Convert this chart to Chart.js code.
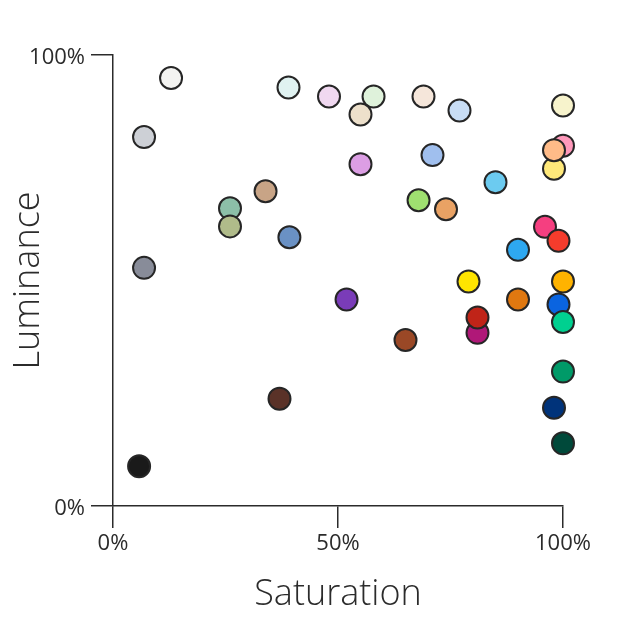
<!DOCTYPE html>
<html>
<head>
<meta charset="utf-8">
<script src="https://cdn.jsdelivr.net/npm/chart.js@4.4.1/dist/chart.umd.min.js"></script>
<style>
  body { margin: 0; background: #fff; }
  canvas { display: block; }
</style>
</head>
<body>
<canvas id="scatter" width="620" height="620"></canvas>
<script>
// saturation (%), luminance (%) and fill colour of each swatch
var saturation = [12.9, 39, 48, 57.9, 55, 69, 77, 100, 6.9, 55, 71, 100, 98, 98,
                  33.9, 26, 26, 39.2, 67.9, 74, 85, 96, 99, 90, 6.9, 51.9, 79, 100,
                  90, 99, 81, 81, 100, 65, 100, 37, 98, 100, 5.8];
var luminance  = [94.9, 92.8, 90.8, 90.8, 86.8, 90.8, 87.7, 88.8, 81.8, 75.8, 77.8, 79.9, 74.8, 78.9,
                  69.8, 66, 62, 59.6, 67.8, 65.8, 71.8, 61.9, 58.8, 56.8, 52.8, 45.8, 49.8, 49.8,
                  45.8, 44.7, 38.4, 41.8, 40.8, 36.8, 29.8, 23.8, 21.8, 13.9, 8.8];
var colors     = ["#f3f3f1", "#e0f2f1", "#f0d8f0", "#dff2db", "#ede0cb", "#f5e6da", "#c8ddf5", "#f7f3cc",
                  "#cdd0d6", "#dc9ee4", "#a0bfee", "#ff99bb", "#ffe97a", "#ffbb88",
                  "#c8a486", "#8cbfa8", "#b0bb8a", "#6a91c4", "#9fe070", "#e9a264", "#6ccbf0",
                  "#f53f80", "#f53c2c", "#2ea8f0", "#888c99", "#7a3cb8", "#ffe500", "#ffb300",
                  "#e07810", "#0a64e0", "#b01878", "#c02418", "#00d090", "#9a4826", "#009a68",
                  "#5a3228", "#00337a", "#00493a", "#1a1a1a"];
var xTicks = [0, 50, 100];
var yTicks = [0, 100];

var points = saturation.map(function(s, i) {
  return {x: s, y: luminance[i]};
});

var fontFamily = "'Segoe UI', 'Open Sans', 'Noto Sans', sans-serif";
var ink = "#2b2b2b";

var ctx = document.getElementById("scatter");
var chart = new Chart(ctx, {
  type: 'scatter',
  data: {
    datasets: [{
      data: points,
      clip: false,
      pointBackgroundColor: colors,
      pointBorderColor: "#262626",
      pointBorderWidth: 2,
      pointRadius: 11,
      pointHoverRadius: 11
    }]
  },
  options: {
    responsive: false,
    animation: false,
    events: [],
    layout: {padding: {left: 0, top: 55, right: 57, bottom: 0}},
    plugins: {legend: {display: false}, tooltip: {enabled: false}},
    scales: {
      x: {
        type: 'linear', min: 0, max: 100,
        afterFit: function(scale) { scale.height = 114; },
        afterBuildTicks: function(scale) {
          scale.ticks = xTicks.map(function(v) { return {value: v}; });
        },
        grid: {drawOnChartArea: false, drawTicks: true, tickLength: 22, color: ink, lineWidth: 1.5},
        border: {display: true, color: ink, width: 1.5},
        ticks: {
          padding: 3, color: ink,
          font: {family: fontFamily, size: 22, weight: 400},
          maxRotation: 0,
          callback: function(v) { return v + '%'; }
        },
        title: {
          display: true, text: 'Saturation', color: ink,
          font: {family: fontFamily, size: 36, weight: 300},
          padding: {top: 0, bottom: 4}
        }
      },
      y: {
        type: 'linear', min: 0, max: 100,
        afterFit: function(scale) { scale.width = 113; },
        afterBuildTicks: function(scale) {
          scale.ticks = yTicks.map(function(v) { return {value: v}; });
        },
        grid: {drawOnChartArea: false, drawTicks: true, tickLength: 22, color: ink, lineWidth: 1.5},
        border: {display: true, color: ink, width: 1.5},
        ticks: {
          padding: 6, color: ink, labelOffset: 3,
          font: {family: fontFamily, size: 22, weight: 400},
          callback: function(v) { return v + '%'; }
        },
        title: {
          display: true, text: 'Luminance', color: ink,
          font: {family: fontFamily, size: 36, weight: 300},
          padding: {top: 7, bottom: 0}
        }
      }
    }
  }
});
</script>
</body>
</html>
